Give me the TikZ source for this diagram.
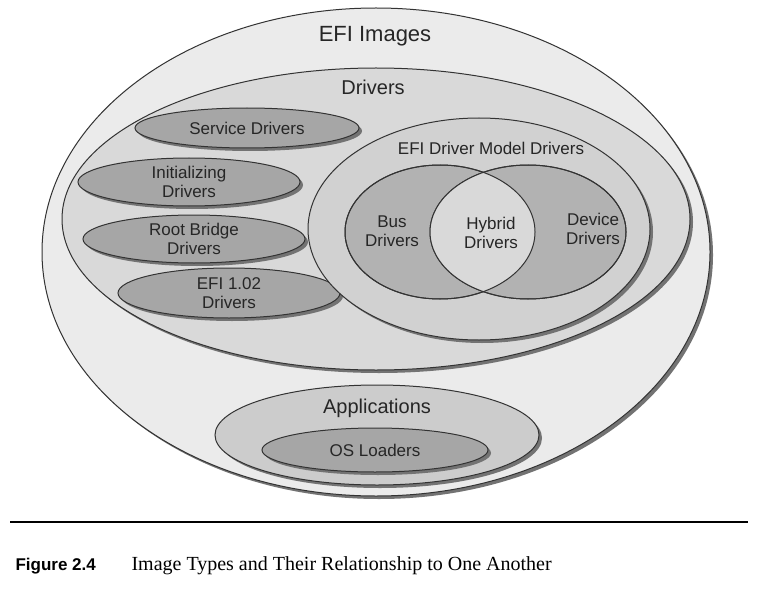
\documentclass[tikz,border=0pt]{standalone}
\usepackage{fontspec}
\setmainfont{Liberation Sans}
\newfontfamily\capserif{Liberation Serif}
\usetikzlibrary{shadows}
\begin{document}
\begin{tikzpicture}[x=1pt,y=-1pt,
  ell/.style={draw=black!80,line width=1pt,drop shadow={shadow xshift=3pt,shadow yshift=-3pt,fill=black!55,opacity=1}},
  lbl/.style={font=\fontsize{17}{19}\selectfont,align=center,text=black!85}]
\useasboundingbox (0,0) rectangle (759,588);
\fill[white] (0,0) rectangle (759,588);
\path[ell,fill=black!8] (376,252) ellipse [x radius=334,y radius=244];
\node[lbl,font=\fontsize{22}{24}\selectfont] (efi) at (375,36) {EFI Images};
\path[ell,fill=black!15] (376,219) ellipse [x radius=314,y radius=151];
\node[lbl,font=\fontsize{20}{22}\selectfont] (drv) at (373,87) {Drivers};
\path[ell,fill=black!35] (247,128) ellipse [x radius=112,y radius=20];
\node[lbl] (sd) at (247,128) {Service Drivers};
\path[ell,fill=black!35] (189,182) ellipse [x radius=111,y radius=24];
\node[lbl] (id) at (189,182) {Initializing\\Drivers};
\path[ell,fill=black!35] (194,239) ellipse [x radius=111,y radius=24];
\node[lbl] (rb) at (194,239) {Root Bridge\\Drivers};
\path[ell,fill=black!35] (229,293) ellipse [x radius=111,y radius=25];
\node[lbl] (e102) at (229,293) {EFI 1.02\\Drivers};
\path[ell,fill=black!18] (479,229) ellipse [x radius=171,y radius=111];
\node[lbl] (dm) at (491,148) {EFI Driver Model Drivers};
\path[draw=black!80,line width=1pt,fill=black!30] (440,232) ellipse [x radius=95,y radius=67];
\path[draw=black!80,line width=1pt,fill=black!30] (528,232) ellipse [x radius=98,y radius=67];
\begin{scope}
\clip (440,232) ellipse [x radius=95,y radius=67];
\path[fill=black!15] (528,232) ellipse [x radius=98,y radius=67];
\end{scope}
\draw[black!80,line width=1pt] (440,232) ellipse [x radius=95,y radius=67];
\draw[black!80,line width=1pt] (528,232) ellipse [x radius=98,y radius=67];
\node[lbl] (bus) at (392,231) {Bus\\Drivers};
\node[lbl] (hyb) at (491,233) {Hybrid\\Drivers};
\node[lbl] (dev) at (593,229) {Device\\Drivers};
\path[ell,fill=black!20] (377,435) ellipse [x radius=162,y radius=50];
\node[lbl,font=\fontsize{20}{22}\selectfont] (app) at (377,408) {Applications};
\path[ell,fill=black!35] (375,450) ellipse [x radius=113,y radius=22];
\node[lbl] (os) at (375,450) {OS Loaders};
\draw[line width=2.5pt] (10,522) -- (748,522);
\node[anchor=west,font=\bfseries\fontsize{17}{19}\selectfont] (fig) at (12,566) {Figure 2.4};
\node[anchor=west,font=\capserif\fontsize{20}{22}\selectfont] (cap) at (128,566) {Image Types and Their Relationship to One Another};
\end{tikzpicture}
\end{document}
